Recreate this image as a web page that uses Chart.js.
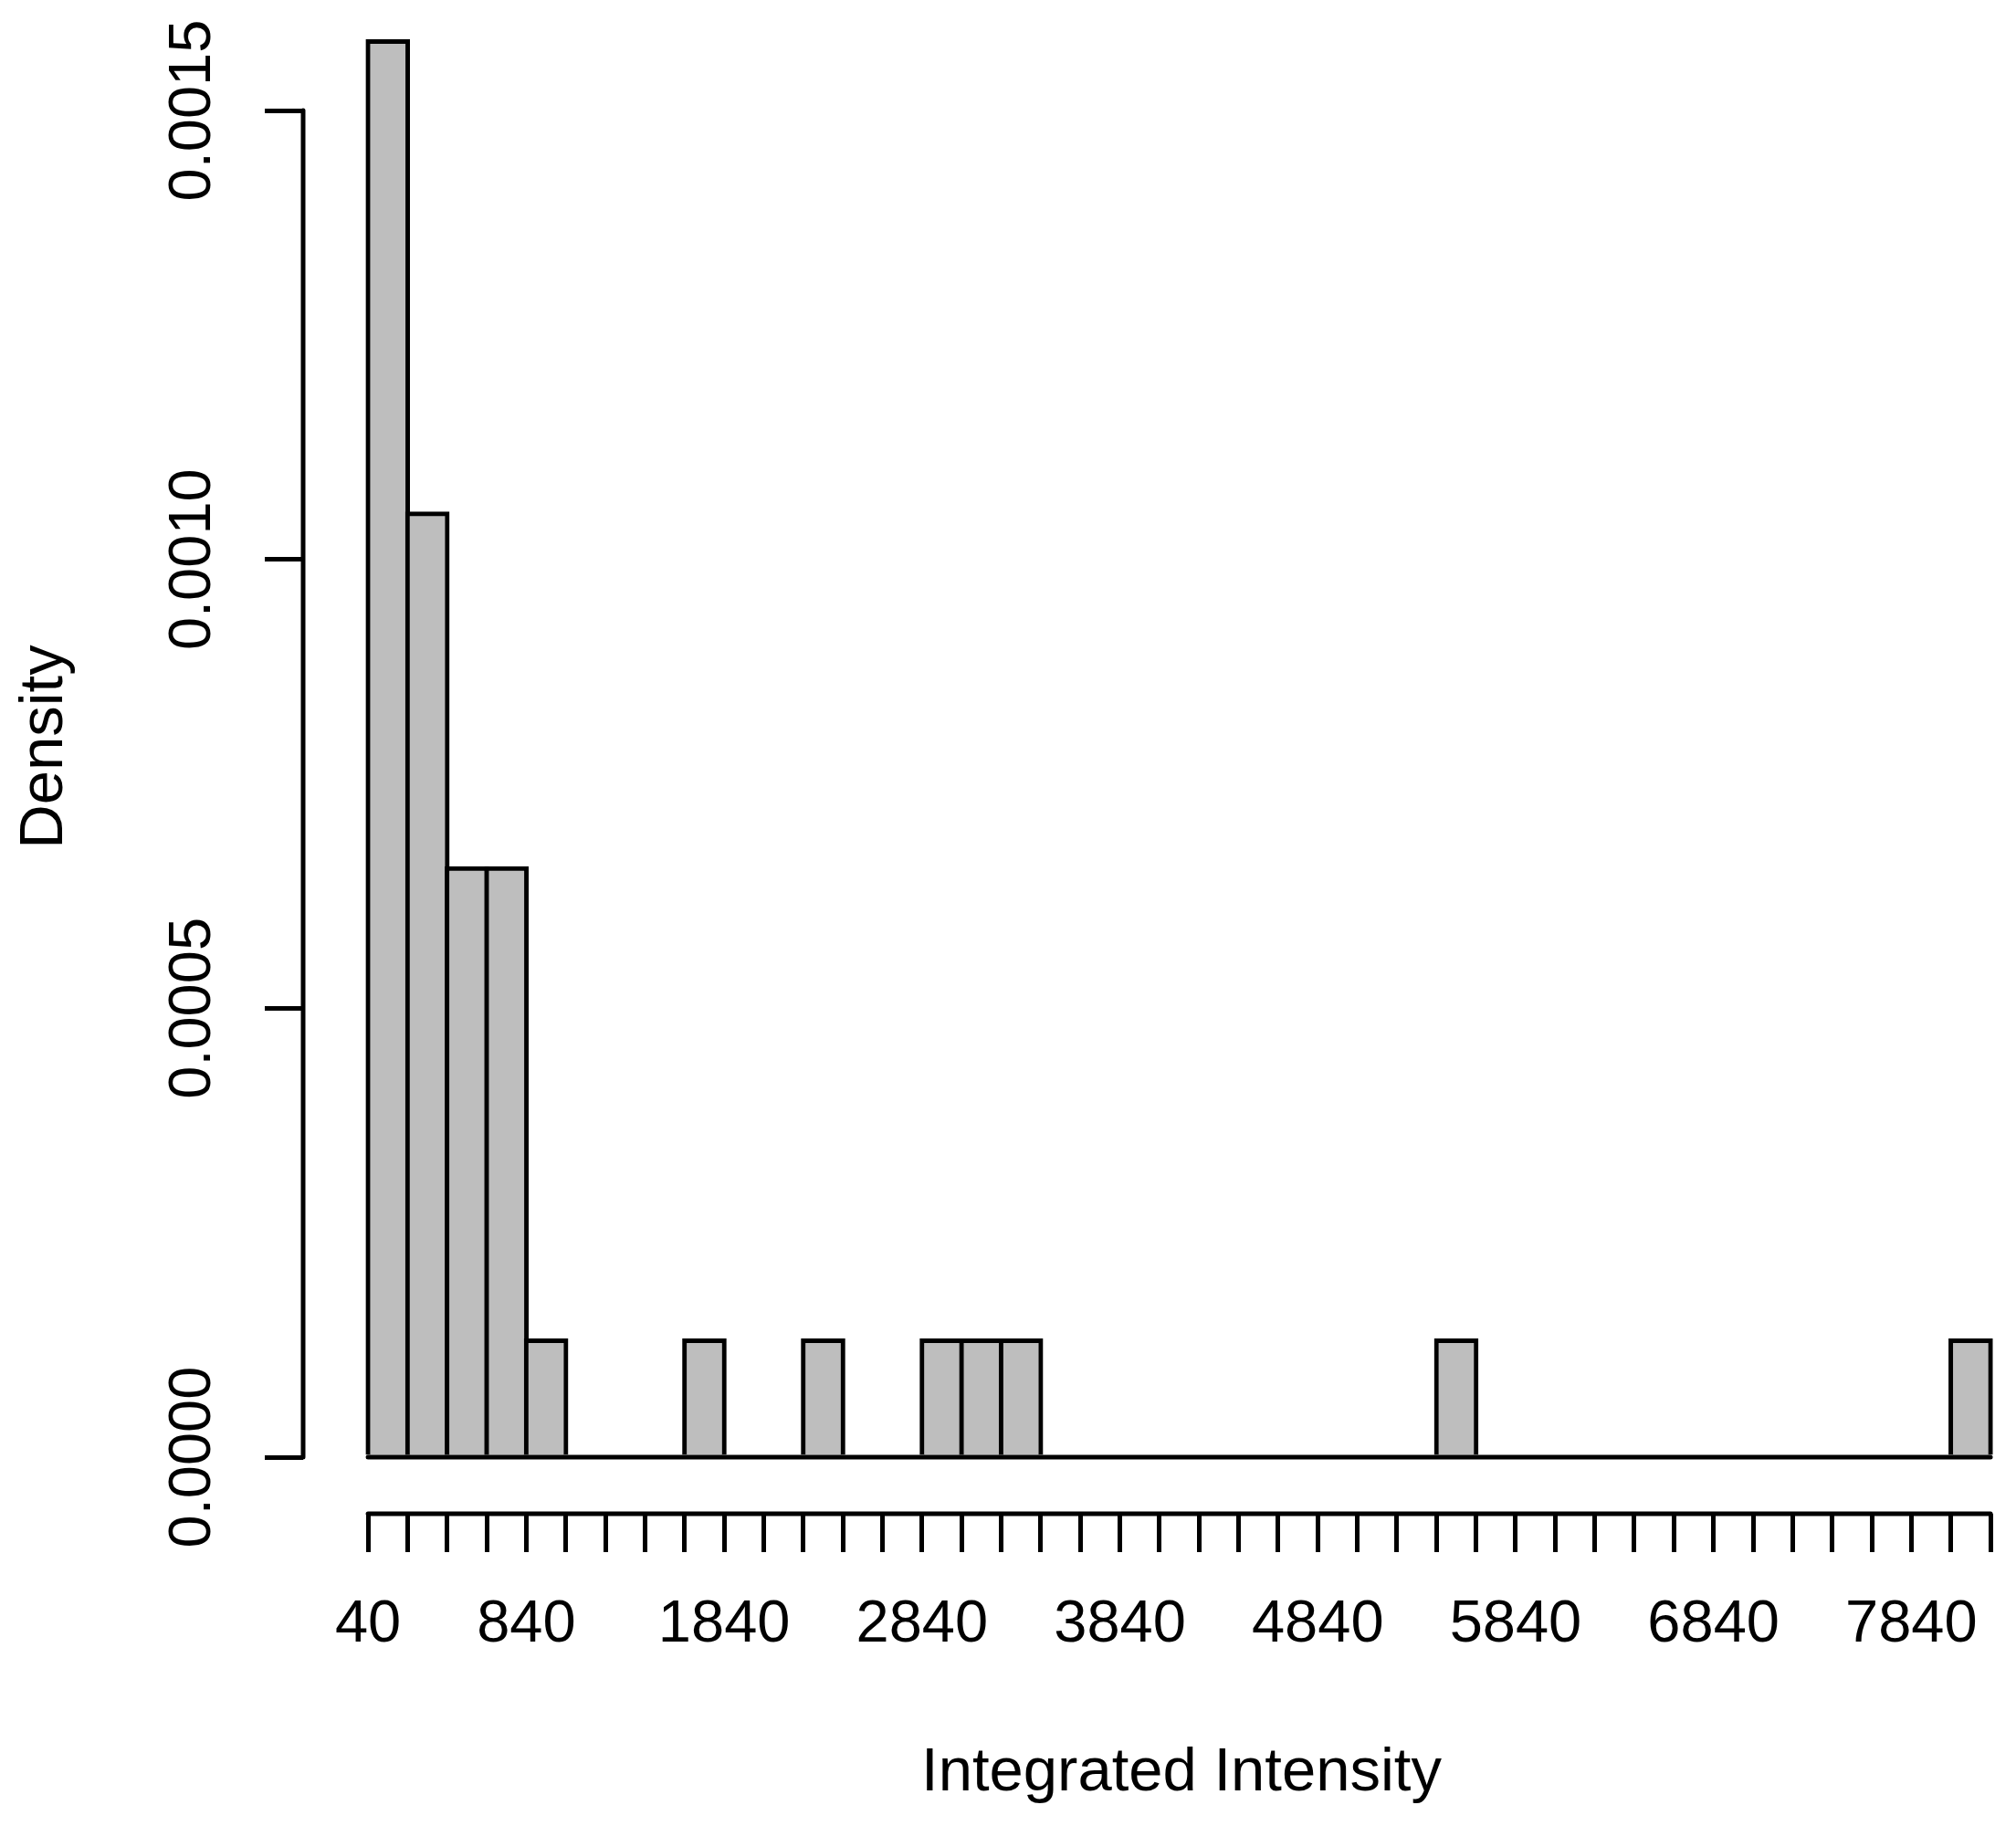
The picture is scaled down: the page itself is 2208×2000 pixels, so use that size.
<!DOCTYPE html>
<html>
<head>
<meta charset="utf-8">
<script src="https://cdn.jsdelivr.net/npm/chart.js@4.4.1/dist/chart.umd.min.js"></script>
<style>
  html, body { margin: 0; padding: 0; background: #fff; }
  canvas { display: block; }
</style>
</head>
<body>
<canvas id="hist" width="2208" height="2000"></canvas>
<script>
// histogram: bins of 200 starting at 40, density per bin
var binStart = 40;
var binWidth = 200;
var density = [
  0.001579, 0.001053, 0.000658, 0.000658, 0.000132, 0, 0, 0, 0.000132, 0,
  0, 0.000132, 0, 0, 0.000132, 0.000132, 0.000132, 0, 0, 0,
  0, 0, 0, 0, 0, 0, 0, 0.000132, 0, 0,
  0, 0, 0, 0, 0, 0, 0, 0, 0, 0,
  0.000132
];
var xTickLabels = [40, 840, 1840, 2840, 3840, 4840, 5840, 6840, 7840];
var yTicks = [0, 0.0005, 0.0010, 0.0015];
var yTickLabels = ['0.0000', '0.0005', '0.0010', '0.0015'];
var xTitle = 'Integrated Intensity';
var yTitle = 'Density';

var breaks = [];
for (var i = 0; i <= density.length; i++) breaks.push(binStart + i * binWidth);

var bars = density.map(function(d, i) {
  return { x: (breaks[i] + breaks[i + 1]) / 2, y: d };
});

var fontFamily = "'Liberation Sans', Arial, sans-serif";
var font = { family: fontFamily, size: 65 };
var lw = 5;

// R style axes: lines only cover the tick range; titles centred on the plot region
var axisLines = {
  id: 'axisLines',
  afterDraw: function(chart) {
    var ctx = chart.ctx, xs = chart.scales.x, ys = chart.scales.y;
    ctx.save();
    ctx.strokeStyle = '#000';
    ctx.lineWidth = lw;
    ctx.lineCap = 'round';
    ctx.beginPath();
    ctx.moveTo(xs.left, ys.getPixelForValue(yTicks[0]));
    ctx.lineTo(xs.left, ys.getPixelForValue(yTicks[yTicks.length - 1]));
    ctx.moveTo(xs.getPixelForValue(breaks[0]), ys.bottom);
    ctx.lineTo(xs.getPixelForValue(breaks[breaks.length - 1]), ys.bottom);
    ctx.stroke();

    ctx.fillStyle = '#000';
    ctx.font = '67px ' + fontFamily;
    ctx.textAlign = 'center';
    ctx.textBaseline = 'middle';
    ctx.fillText(xTitle, 1294, 1943);
    ctx.translate(50, 818);
    ctx.rotate(-Math.PI / 2);
    ctx.fillText(yTitle, 0, 0);
    ctx.restore();
  }
};

function noPad(scale) {
  scale.paddingLeft = 0;
  scale.paddingRight = 0;
  scale.paddingTop = 0;
  scale.paddingBottom = 0;
}

var ctx = document.getElementById('hist').getContext('2d');
var myChart = new Chart(ctx, {
  type: 'bar',
  data: {
    datasets: [
      {
        type: 'line',
        data: [{ x: breaks[0], y: 0 }, { x: breaks[breaks.length - 1], y: 0 }],
        borderColor: '#000',
        borderWidth: lw,
        borderCapStyle: 'round',
        pointRadius: 0,
        order: 0
      },
      {
        data: bars,
        backgroundColor: '#bebebe',
        borderColor: '#000',
        borderWidth: lw,
        borderSkipped: 'start',
        barThickness: 48,
        clip: false,
        order: 1
      }
    ]
  },
  options: {
    responsive: false,
    animation: false,
    devicePixelRatio: 1,
    layout: { padding: { top: 121, left: 0, right: 0, bottom: 0 } },
    plugins: {
      legend: { display: false },
      tooltip: { enabled: false }
    },
    scales: {
      x: {
        type: 'linear',
        min: -288,
        max: 8369,
        offset: false,
        border: { display: false },
        grid: {
          offset: false,
          drawOnChartArea: false,
          drawTicks: true,
          tickLength: 42,
          lineWidth: lw,
          color: '#000'
        },
        afterBuildTicks: function(scale) {
          scale.ticks = breaks.map(function(v) { return { value: v }; });
        },
        afterFit: function(scale) {
          scale.height = 342;
          noPad(scale);
        },
        ticks: {
          autoSkip: false,
          maxRotation: 0,
          minRotation: 0,
          padding: 41,
          color: '#000',
          font: font,
          callback: function(value) {
            return xTickLabels.indexOf(value) >= 0 ? String(value) : '';
          }
        }
      },
      y: {
        type: 'linear',
        min: -0.000063,
        max: 0.0015,
        border: { display: false },
        grid: {
          drawOnChartArea: false,
          drawTicks: true,
          tickLength: 42,
          lineWidth: lw,
          color: '#000'
        },
        afterBuildTicks: function(scale) {
          scale.ticks = yTicks.map(function(v) { return { value: v }; });
        },
        afterFit: function(scale) {
          scale.width = 332;
          noPad(scale);
        },
        ticks: {
          minRotation: 90,
          maxRotation: 90,
          crossAlign: 'center',
          padding: -21,
          color: '#000',
          font: font,
          callback: function(value, index) {
            return yTickLabels[index];
          }
        }
      }
    }
  },
  plugins: [axisLines]
});
</script>
</body>
</html>
